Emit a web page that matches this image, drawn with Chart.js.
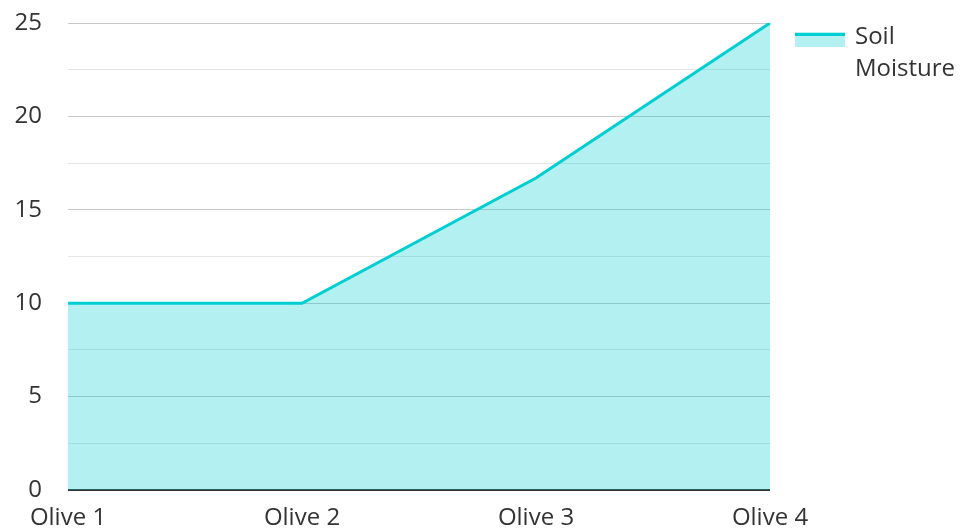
<!DOCTYPE html>
<html>
<head>
<meta charset="utf-8">
<script src="https://cdn.jsdelivr.net/npm/chart.js@4"></script>
<style>
  html, body { margin: 0; padding: 0; background: #fff; }
  #wrap { width: 960px; height: 531px; }
</style>
</head>
<body>
<div id="wrap"><canvas id="chart"></canvas></div>
<script>
const categories = ['Olive 1', 'Olive 2', 'Olive 3', 'Olive 4'];
const moisture = [10, 10, 16.7, 25];
const seriesName = ['Soil', 'Moisture'];

const lineColor = 'rgb(0, 206, 209)';
const fillColor = 'rgba(0, 206, 209, 0.3)';

// legend drawn by hand so the label can wrap over two lines
const sideLegend = {
    id: 'sideLegend',
    afterDraw(chart) {
        const ctx = chart.ctx;
        const x = chart.chartArea.right + 25;
        const y = 32;
        ctx.save();
        ctx.fillStyle = fillColor;
        ctx.fillRect(x, y, 50, 15);
        ctx.fillStyle = lineColor;
        ctx.fillRect(x, y + 1, 50, 3);
        ctx.fillStyle = '#333';
        ctx.font = '24px "Open Sans"';
        ctx.textBaseline = 'middle';
        seriesName.forEach((t, i) => ctx.fillText(t, x + 60, 37 + i * 32));
        ctx.restore();
    }
};

new Chart(document.getElementById('chart'), {
    type: 'line',
    data: {
        labels: categories,
        datasets: [{
            label: seriesName.join(' '),
            data: moisture,
            borderColor: lineColor,
            backgroundColor: fillColor,
            borderWidth: 3,
            fill: 'origin',
            pointRadius: 0,
            tension: 0
        }]
    },
    options: {
        responsive: true,
        maintainAspectRatio: false,
        animation: false,
        layout: { padding: { top: 23, right: 190, left: 0, bottom: 0 } },
        plugins: { legend: { display: false }, tooltip: { enabled: false } },
        scales: {
            x: {
                offset: false,
                grid: { display: false, drawTicks: false },
                border: { display: false },
                ticks: { color: '#333', font: { family: 'Open Sans', size: 24 }, padding: 14, maxRotation: 0 },
                afterFit: s => { s.height = 41; }
            },
            y: {
                min: 0,
                max: 25,
                border: { display: false },
                grid: {
                    drawTicks: false,
                    color: c => c.tick.value === 0 ? '#333' : (c.tick.value % 5 === 0 ? '#c8c8c8' : '#e6e6e6'),
                    lineWidth: c => c.tick.value === 0 ? 2 : 1
                },
                ticks: {
                    stepSize: 2.5,
                    color: '#333',
                    font: { family: 'Open Sans', size: 24 },
                    padding: 26,
                    callback: v => v % 5 === 0 ? String(v) : ''
                },
                afterFit: s => { s.width = 68; s.paddingTop = 0; s.paddingBottom = 0; }
            }
        }
    },
    plugins: [sideLegend]
});
</script>
</body>
</html>
